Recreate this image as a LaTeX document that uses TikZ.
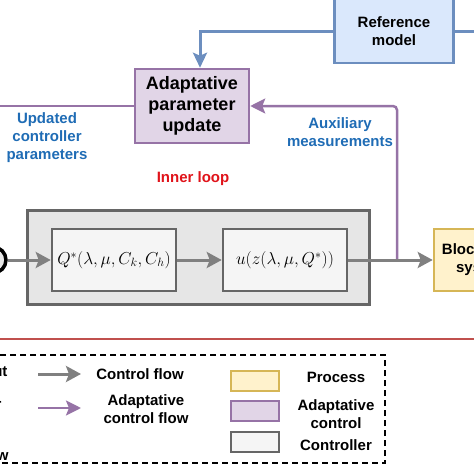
\documentclass[tikz,border=0pt]{standalone}
\usepackage{fontspec}
\setmainfont{Liberation Sans}
\usepackage{tikz}
\usetikzlibrary{shapes,arrows.meta,positioning}
\definecolor{flowgray}{HTML}{808080}
\definecolor{boxgray}{HTML}{666666}
\definecolor{outerfill}{HTML}{E6E6E6}
\definecolor{innerfill}{HTML}{F5F5F5}
\definecolor{adaptdraw}{HTML}{9673A6}
\definecolor{adaptfill}{HTML}{E1D5E7}
\definecolor{refdraw}{HTML}{6C8EBF}
\definecolor{reffill}{HTML}{DAE8FC}
\definecolor{procdraw}{HTML}{D6B656}
\definecolor{procfill}{HTML}{FFF2CC}
\definecolor{labelblue}{HTML}{1F6CB5}
\definecolor{labelred}{HTML}{E0131A}
\definecolor{sepred}{HTML}{C0504D}
\tikzstyle{txt} = [font=\fontsize{15}{18}\selectfont\bfseries, align=center]
\tikzstyle{ctrlouter} = [rectangle, draw=boxgray, fill=outerfill, line width=3pt, minimum width=342pt, minimum height=94pt]
\tikzstyle{ctrlbox} = [rectangle, draw=boxgray, fill=innerfill, line width=2.5pt, minimum width=124pt, minimum height=62pt, font=\fontsize{17}{20}\selectfont]
\tikzstyle{adaptbox} = [rectangle, draw=adaptdraw, fill=adaptfill, line width=2.5pt, minimum width=114pt, minimum height=74pt, align=center, font=\fontsize{18}{21}\selectfont\bfseries]
\tikzstyle{refbox} = [rectangle, draw=refdraw, fill=reffill, line width=2.5pt, minimum width=119pt, minimum height=64pt, txt]
\tikzstyle{procbox} = [rectangle, draw=procdraw, fill=procfill, line width=2.5pt, minimum width=96pt, minimum height=62pt, txt]
\tikzstyle{sumnode} = [circle, draw=black, fill=outerfill, line width=3.5pt, minimum size=26pt, inner sep=0pt]
\tikzstyle{bluelabel} = [txt, text=labelblue]
\tikzstyle{redlabel} = [txt, text=labelred]
\tikzstyle{grayline} = [draw=flowgray, line width=3pt, -{Stealth[length=15pt, width=16pt, inset=3pt]}]
\tikzstyle{purpleline} = [draw=adaptdraw, line width=2.5pt, -{Stealth[length=15pt, width=15pt, inset=3pt]}]
\tikzstyle{purpleplain} = [draw=adaptdraw, line width=2.5pt]
\tikzstyle{blueline} = [draw=refdraw, line width=3pt, -{Stealth[length=15pt, width=14pt, inset=3pt]}]
\tikzstyle{blueplain} = [draw=refdraw, line width=3pt]
\tikzstyle{legframe} = [draw=black, line width=1.8pt, dash pattern=on 6pt off 4pt]
\tikzstyle{legprocess} = [rectangle, draw=procdraw, fill=procfill, line width=2.5pt, minimum width=48pt, minimum height=20pt]
\tikzstyle{legadapt} = [rectangle, draw=adaptdraw, fill=adaptfill, line width=2.5pt, minimum width=48pt, minimum height=20pt]
\tikzstyle{legctrl} = [rectangle, draw=boxgray, fill=innerfill, line width=2.5pt, minimum width=48pt, minimum height=20pt]

\begin{document}
\begin{tikzpicture}[x=1pt, y=-1pt]
	\useasboundingbox (0, 0) rectangle (474, 474);
	\clip (0, 0) rectangle (474, 474);

	\node [ctrlouter] (ctrl) at (198, 257) {};
	\node [ctrlbox] (qbox) at (114, 260) {$Q^*(\lambda, \mu, C_k, C_h)$};
	\node [ctrlbox] (ubox) at (285, 260) {$u(z(\lambda, \mu, Q^*))$};
	\node [procbox] (block) at (482, 260) {Blockchain\\system};
	\node [adaptbox] (adapt) at (192, 106) {Adaptative\\parameter\\update};
	\node [refbox] (ref) at (394, 31) {Reference\\model};
	\node [sumnode] (sum) at (-7, 260) {};

	\node [bluelabel] (updlabel) at (47, 138) {Updated\\controller\\parameters};
	\node [bluelabel] (auxlabel) at (340, 132) {Auxiliary\\measurements};
	\node [redlabel] (innerlabel) at (193, 179) {Inner loop};

	\coordinate (refout) at (480, 31);
	\coordinate (updout) at (-5, 106);
	\coordinate (aux) at (397, 260);

	\path [blueline] (ref.west) -| ([xshift=8pt]adapt.north);
	\path [blueplain] (ref.east) -- (refout);
	\path [purpleplain] (adapt.west) -- (updout);
	\path [purpleline, rounded corners=4pt] (aux) |- (adapt.east);
	\path [grayline] (sum) -- (qbox);
	\path [grayline] (qbox) -- (ubox);
	\path [grayline] (ubox) -- (block);

	% separator and legend
	\draw [sepred, line width=2.5pt] (-5, 339) -- (480, 339);
	\draw [legframe] (-10, 355) rectangle (385, 463);

	\coordinate (ctrla) at (38, 374);
	\coordinate (ctrlb) at (81, 374);
	\coordinate (adpa) at (38, 408);
	\coordinate (adpb) at (81, 408);
	\path [grayline] (ctrla) -- (ctrlb);
	\path [purpleline] (adpa) -- (adpb);

	\node [txt, anchor=east] (inlabel) at (11, 373) {Input};
	\node [txt, anchor=east] (errlabel) at (5, 404) {Error};
	\node [txt, anchor=east] (flowlabel) at (12, 455) {flow};
	\node [txt] (ctrltxt) at (140, 374) {Control flow};
	\node [txt] (adptxt) at (146, 409) {Adaptative\\control flow};

	\node [legprocess] (lproc) at (255, 381) {};
	\node [legadapt] (ladapt) at (255, 411) {};
	\node [legctrl] (lctrl) at (255, 442) {};
	\node [txt] (proctxt) at (336, 377) {Process};
	\node [txt] (adapttxt) at (336, 414) {Adaptative\\control};
	\node [txt] (ctrllegtxt) at (336, 445) {Controller};
\end{tikzpicture}
\end{document}
